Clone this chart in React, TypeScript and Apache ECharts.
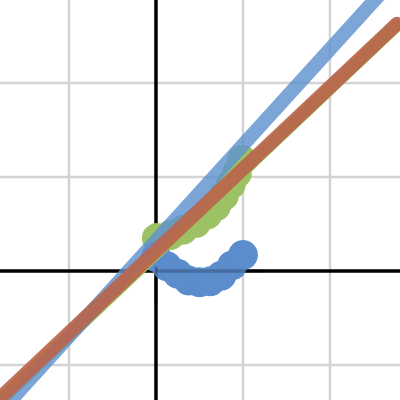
import React, { useEffect, useRef } from "react";
import * as echarts from "echarts";

// Visible extent of the plane
const xRange = [-1.793, 2.805];
const yRange = [-1.372, 2.883];

// Grid line positions (axes at 0)
const xGridTicks = [-1, 1, 2];
const yGridTicks = [-1, 1, 2];

// Blue point chain
const blueX = [0, 0.125, 0.25, 0.375, 0.5, 0.625, 0.75, 0.875, 1.0];
const blueY = [0.15, 0.05, -0.03, -0.1, -0.12, -0.11, -0.05, 0.06, 0.17];

// Green point chain
const greenX = [0.01, 0.16, 0.31, 0.46, 0.59, 0.69, 0.78, 0.86, 0.93, 0.99];
const greenY = [0.35, 0.38, 0.44, 0.51, 0.6, 0.69, 0.8, 0.92, 1.04, 1.18];

// Straight lines (endpoints)
const blueLineX = [-1.85, 2.6];
const blueLineY = [-1.56, 2.97];
const redLineX = [-1.85, 2.77];
const redLineY = [-1.4, 2.63];
const greenLineX = [-1.85, 2.76];
const greenLineY = [-1.43, 2.61];

const zip = (xs: number[], ys: number[]) => xs.map((x, i) => [x, ys[i]]);

export default function App() {
  const ref = useRef<HTMLDivElement>(null);
  useEffect(() => {
    if (!ref.current) return;
    const chart = echarts.init(ref.current, undefined, { renderer: "svg" });

    const seg = (data: number[][], color: string, width: number, z: number, cap = "butt") => ({
      type: "line",
      data,
      symbol: "none",
      showSymbol: false,
      silent: true,
      z,
      lineStyle: { color, width, cap },
    });

    const gridSeries: any[] = [];
    xGridTicks.forEach((v) =>
      gridSeries.push(seg([[v, yRange[0] - 1], [v, yRange[1] + 1]], "#d3d3d3", 2.5, 1))
    );
    yGridTicks.forEach((v) =>
      gridSeries.push(seg([[xRange[0] - 1, v], [xRange[1] + 1, v]], "#d3d3d3", 2.5, 1))
    );
    const axisSeries = [
      seg([[0, yRange[0] - 1], [0, yRange[1] + 1]], "#000000", 3.5, 2),
      seg([[xRange[0] - 1, 0], [xRange[1] + 1, 0]], "#000000", 3.5, 2),
    ];
    const axisOverlay = [
      seg([[0, 0], [1.25, 0]], "rgba(0,0,0,0.22)", 3.5, 6),
      seg([[0, -0.35], [0, 0.05]], "rgba(0,0,0,0.22)", 3.5, 6),
    ];

    chart.setOption({
      animation: false,
      grid: { left: 0, right: 0, top: 0, bottom: 0, containLabel: false },
      xAxis: {
        type: "value",
        min: xRange[0],
        max: xRange[1],
        axisLine: { show: false },
        axisTick: { show: false },
        axisLabel: { show: false },
        splitLine: { show: false },
      },
      yAxis: {
        type: "value",
        min: yRange[0],
        max: yRange[1],
        axisLine: { show: false },
        axisTick: { show: false },
        axisLabel: { show: false },
        splitLine: { show: false },
      },
      series: [
        ...gridSeries,
        ...axisSeries,
        {
          type: "scatter",
          data: zip(greenX, greenY),
          symbolSize: 30,
          silent: true,
          z: 4,
          itemStyle: { color: "#9dc264", opacity: 1 },
        },
        {
          type: "scatter",
          data: zip(blueX, blueY),
          symbolSize: 30,
          silent: true,
          z: 5,
          itemStyle: { color: "#5b8dcd", opacity: 1 },
        },
        ...axisOverlay,
        seg(zip(greenLineX, greenLineY), "#9dc264", 13, 7, "round"),
        seg(zip(blueLineX, blueLineY), "rgba(95,145,208,0.82)", 14, 8, "round"),
        seg(zip(redLineX, redLineY), "rgba(186,100,74,0.9)", 14, 9, "round"),
      ],
    });
    return () => chart.dispose();
  }, []);
  return (
    <div
      ref={ref}
      style={{ position: "absolute", left: 0, top: 0, width: 400, height: 400 }}
    />
  );
}
